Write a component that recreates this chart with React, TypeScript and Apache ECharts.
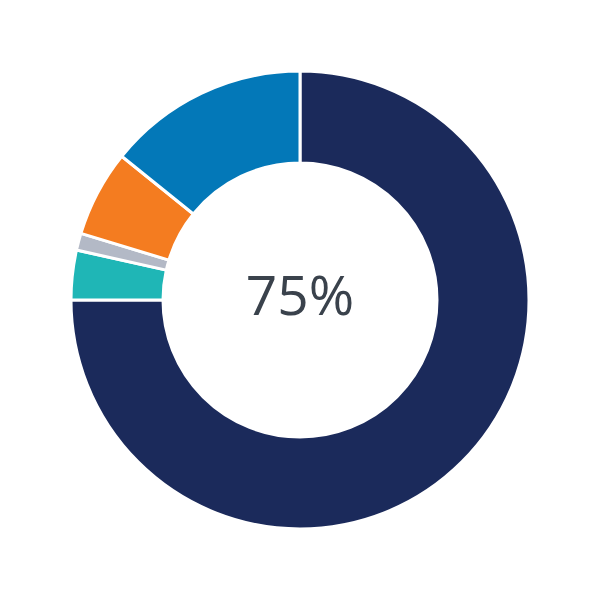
import React, { useEffect, useRef } from "react";
import * as echarts from "echarts";

const categories = ["A", "B", "C", "D", "E"];
const values = [75, 3.5, 1.2, 6.1, 14.2];
const colors = ["#1b2a5b", "#1fb6b6", "#b3b9c6", "#f47c20", "#0378b8"];
const centerLabel = "75%";

export default function App() {
  const ref = useRef<HTMLDivElement>(null);
  useEffect(() => {
    if (!ref.current) return;
    const chart = echarts.init(ref.current, null, { renderer: "svg" });
    chart.setOption({
      animation: false,
      color: colors,
      graphic: [
        {
          type: "text",
          x: 300,
          y: 293,
          style: {
            text: centerLabel,
            align: "center",
            verticalAlign: "middle",
            fontFamily: "Open Sans",
            fontWeight: "normal",
            fontSize: 55,
            fill: "#3a424c",
          },
        },
      ],
      series: [
        {
          type: "pie",
          center: [300, 300],
          radius: [137, 229],
          startAngle: 90,
          clockwise: true,
          label: { show: false },
          labelLine: { show: false },
          itemStyle: { borderColor: "#ffffff", borderWidth: 3 },
          data: categories.map((c, i) => ({ name: c, value: values[i] })),
        },
      ],
    });
    return () => chart.dispose();
  }, []);
  return (
    <div
      ref={ref}
      style={{ position: "fixed", left: 0, top: 0, width: 600, height: 600, background: "#fff" }}
    />
  );
}
